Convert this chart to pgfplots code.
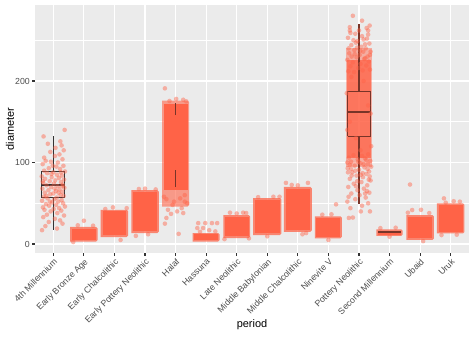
\documentclass[border=0pt]{standalone}
\usepackage{pgfplots}
\pgfplotsset{compat=1.18}
\usepackage{fontspec}
\setmainfont{Liberation Sans}
\definecolor{tomato}{RGB}{255,99,71}
\definecolor{panelbg}{RGB}{235,235,235}
\definecolor{grey20}{RGB}{51,51,51}
\definecolor{grey30}{RGB}{77,77,77}
\definecolor{boxred}{RGB}{120,52,40}
\pgfplotsset{
  pts/.style={only marks, mark=*, mark size=2.3bp, color=tomato, mark options={draw opacity=0, line width=0pt, fill=tomato, fill opacity=0.45}},
  outer/.style={fill=tomato, fill opacity=0.75, draw=none, rounded corners=1.5bp},
  inner/.style={fill=tomato, draw=none},
}
\begin{document}
\begin{tikzpicture}
\begin{axis}[
  scale only axis, width=434bp, height=247.8bp,
  xmin=-0.6, xmax=13.6, ymin=-11, ymax=293,
  axis background/.style={fill=panelbg},
  axis line style={draw=none},
  tick pos=left, tick align=outside,
  major tick length=2.75bp, minor tick length=0pt,
  tick style={grey20, line width=1.07bp},
  xtick={0,1,2,3,4,5,6,7,8,9,10,11,12,13},
  xticklabels={4th Millennium, Early Bronze Age, Early Chalcolithic, Early Pottery Neolithic, Halaf, Hassuna, Late Neolithic, Middle Babylonian, Middle Chalcolithic, Ninevite V, Pottery Neolithic, Second Millennium, Ubaid, Uruk},
  ytick={0,100,200}, minor ytick={50,150,250},
  grid=both,
  major grid style={white, line width=1.07bp},
  minor grid style={white, line width=0.53bp},
  xticklabel style={rotate=45, anchor=north east, font=\fontsize{8.8}{10}\selectfont, text=grey30, inner sep=1.5pt},
  yticklabel style={font=\fontsize{8.8}{10}\selectfont, text=grey30, inner sep=2.2bp},
  /pgf/number format/assume math mode=true,
  xlabel={period}, ylabel={diameter},
  every axis x label/.style={at={(axis description cs:0.5,0)}, yshift=-72bp, anchor=center, font=\fontsize{11}{13}\selectfont},
  every axis y label/.style={at={(axis description cs:0,0.5)}, xshift=-25bp, rotate=90, anchor=center, font=\fontsize{11}{13}\selectfont},
]
% 4th Millennium box (under points)
\addplot[grey20, line width=1.07bp] coordinates {(-0.375,57) (0.375,57) (0.375,89) (-0.375,89) (-0.375,57)};
\addplot[grey20, line width=1.07bp] coordinates {(0,89) (0,132)};
\addplot[grey20, line width=1.07bp] coordinates {(0,57) (0,17)};
\addplot[grey20, line width=2.1bp] coordinates {(-0.375,72) (0.375,72)};
% dense blocks
\addplot[outer] coordinates {(0.55,3) (1.45,3) (1.45,21) (0.55,21)};
\addplot[inner] coordinates {(0.61,5) (1.39,5) (1.39,19) (0.61,19)};
\addplot[outer] coordinates {(1.55,8.6) (2.45,8.6) (2.45,42) (1.55,42)};
\addplot[inner] coordinates {(1.61,10.5) (2.39,10.5) (2.39,40) (1.61,40)};
\addplot[outer] coordinates {(2.55,13.5) (3.45,13.5) (3.45,66) (2.55,66)};
\addplot[inner] coordinates {(2.61,15.5) (3.39,15.5) (3.39,64) (2.61,64)};
\addplot[fill=tomato, fill opacity=0.6, draw=none, rounded corners=1.5bp] coordinates {(3.56,46) (4.44,46) (4.44,176) (3.56,176)};
\addplot[inner] coordinates {(3.61,66) (4.39,66) (4.39,172) (3.61,172)};
\addplot[outer] coordinates {(4.56,3) (5.44,3) (5.44,13.5) (4.56,13.5)};
\addplot[inner] coordinates {(4.61,4.5) (5.39,4.5) (5.39,12) (4.61,12)};
\addplot[outer] coordinates {(5.56,7.4) (6.44,7.4) (6.44,35.6) (5.56,35.6)};
\addplot[inner] coordinates {(5.61,9.5) (6.39,9.5) (6.39,33.5) (5.61,33.5)};
\addplot[outer] coordinates {(6.54,11) (7.46,11) (7.46,56.4) (6.54,56.4)};
\addplot[inner] coordinates {(6.6,13) (7.4,13) (7.4,54.5) (6.6,54.5)};
\addplot[outer] coordinates {(7.54,15) (8.46,15) (8.46,70) (7.54,70)};
\addplot[inner] coordinates {(7.6,17) (8.4,17) (8.4,68) (7.6,68)};
\addplot[outer] coordinates {(8.56,7) (9.44,7) (9.44,34) (8.56,34)};
\addplot[inner] coordinates {(8.61,9) (9.39,9) (9.39,32) (8.61,32)};
\addplot[outer] coordinates {(10.57,10) (11.43,10) (11.43,18) (10.57,18)};
\addplot[inner] coordinates {(10.62,11.5) (11.38,11.5) (11.38,16.5) (10.62,16.5)};
\addplot[outer] coordinates {(11.55,5) (12.45,5) (12.45,35.6) (11.55,35.6)};
\addplot[inner] coordinates {(11.61,7) (12.39,7) (12.39,33.5) (11.61,33.5)};
\addplot[outer] coordinates {(12.55,13) (13.45,13) (13.45,50) (12.55,50)};
\addplot[inner] coordinates {(12.61,15) (13.39,15) (13.39,48) (12.61,48)};
% Pottery Neolithic core
\addplot[fill=tomato, fill opacity=0.45, draw=none] coordinates {(9.58,95) (10.42,95) (10.42,240) (9.58,240)};
\addplot[fill=tomato, fill opacity=0.75, draw=none] coordinates {(9.62,106) (10.38,106) (10.38,226) (9.62,226)};
% Pottery Neolithic box
\addplot[boxred, line width=1.07bp] coordinates {(9.625,132) (10.375,132) (10.375,187) (9.625,187) (9.625,132)};
\addplot[boxred, line width=1.07bp] coordinates {(10,187) (10,270)};
\addplot[boxred, line width=1.07bp] coordinates {(10,132) (10,49)};
\addplot[boxred, line width=2.1bp] coordinates {(9.625,162) (10.375,162)};
% Halaf whisker segments visible
\addplot[boxred, line width=1.07bp] coordinates {(4,158) (4,173)};
\addplot[boxred, line width=1.07bp] coordinates {(4,70) (4,91)};
% Second Millennium median
\addplot[boxred, line width=1.5bp] coordinates {(10.625,14.5) (11.375,14.5)};
% 4th Millennium points
\addplot[pts] coordinates {
(-0.32,132) (0.37,140) (-0.37,17) (0.23,126) (0.27,121) (-0.1,113) (0.05,108) (0.3,104) (-0.25,102) (0.15,100)
(-0.35,98) (0.33,96) (0.1,95) (-0.15,93) (0.22,92) (-0.3,90) (0.38,89) (0.0,88) (-0.2,87) (0.12,85)
(0.28,84) (-0.38,83) (-0.05,82) (0.18,81) (-0.27,80) (0.35,79) (0.06,78) (-0.12,77) (0.25,76) (-0.33,75)
(0.02,74) (0.31,73) (-0.22,72) (0.14,71) (-0.07,70) (0.36,69) (-0.36,68) (0.2,67) (-0.16,66) (0.08,65)
(0.29,64) (-0.28,63) (0.0,62) (-0.1,61) (0.24,60) (0.34,59) (-0.31,58) (0.11,57) (-0.19,56) (0.03,55)
(0.27,54) (-0.37,53) (0.16,52) (-0.04,51) (0.32,50) (-0.24,49) (0.09,48) (-0.14,47) (0.38,46) (-0.34,45)
(0.19,44) (0.01,43) (-0.29,42) (0.26,41) (-0.09,40) (0.13,38) (-0.21,36) (0.35,35) (-0.33,33) (0.05,31)
(0.22,29) (-0.15,27) (0.3,25) (-0.26,22) (0.12,19) (-0.02,96) (0.2,110) (-0.3,106) (0.07,118) (-0.18,123)
(0.34,115) (-0.08,101) (0.25,88) (-0.35,77) (0.17,63) (-0.06,86) (0.04,68) (-0.23,59) (0.29,71) (-0.11,52)
};
% Pottery Neolithic points
\addplot[pts] coordinates {
(9.67,32) (9.80,32.5) (10.06,40) (10.36,40) (9.72,44) (10.10,47) (10.30,50) (9.62,52) (9.88,55) (10.22,57)
(10.02,60) (9.75,62) (10.34,63) (9.95,66) (10.16,68) (9.65,70) (10.27,72) (9.83,74) (10.08,76) (10.38,78)
(9.70,80) (10.13,82) (9.92,84) (10.24,86) (9.78,88) (10.33,89) (10.00,91) (9.63,93) (10.18,94) (9.86,96)
(10.29,98) (10.05,99) (9.74,101) (10.37,102) (9.96,104) (10.20,105) (9.67,106) (10.10,108) (9.82,109) (10.30,110)
(10.26,65) (9.90,71) (10.12,87) (9.70,97) (10.35,83)
(9.66,58) (10.20,62) (9.94,77) (10.32,79) (9.76,84) (10.06,85) (9.64,88) (10.28,92) (9.88,90) (10.15,98)
(9.74,92) (10.40,95) (9.98,101) (9.62,100) (10.24,103)
(9.80,280) (10.10,274) (9.70,266) (10.25,265) (10.00,262) (9.88,258) (10.30,257) (9.64,253) (10.15,251) (9.95,249)
(10.34,246) (9.75,244) (10.08,242) (10.22,240) (9.85,238) (10.38,236) (9.68,234) (10.02,232) (10.28,230) (9.92,229)
(10.17,227) (9.62,226) (10.32,224) (9.80,223) (10.05,221) (10.24,219) (9.72,218) (9.98,216) (10.36,214) (10.12,213)
(9.65,212) (9.84,211) (10.20,245) (9.72,259) (10.35,268) (9.90,247) (10.10,255)
(9.82,250) (10.26,252) (9.66,240) (10.14,236) (9.94,241) (10.36,232) (9.76,230) (10.04,237) (9.86,233) (10.20,228)
(9.70,262) (10.30,262)
(9.70,150) (10.30,170) (9.90,130) (10.15,200) (9.60,185) (10.40,120) (10.38,160) (9.62,140) (10.05,115) (9.75,205)
};
% scattered points of the dense groups
\addplot[pts] coordinates {
(1.0,28.6) (0.8,23) (1.3,22.5) (0.65,2.5)
(1.95,45) (2.4,44) (2.2,5) (1.7,43)
(2.7,10) (3.1,12) (3.35,67) (2.8,67.5) (3.0,68)
(3.65,191) (4.25,177) (4.02,178) (3.8,175.5) (4.35,175) (3.7,32) (3.65,25) (4.1,12.5) (3.7,55) (4.3,52)
(3.9,48) (4.2,44) (3.62,58) (4.38,50) (4.05,40) (3.75,42) (4.15,56) (4.3,60) (3.85,37) (4.25,38) (3.95,52)
(4.74,25.7) (4.97,25.7) (5.19,25.7) (5.36,25.7) (4.71,19.6) (4.9,19.6) (5.1,17) (5.3,15.5) (4.8,15)
(5.78,38.5) (6.21,38.5) (6.31,38) (6.0,37.5) (5.6,6) (6.4,7)
(6.7,57.5) (7.2,58) (7.4,58) (7.0,9.5)
(7.61,75) (8.33,75) (8.27,13.5) (8.0,72) (7.8,72.5) (8.15,12)
(9.25,48.7) (8.8,36) (9.1,36.5) (9.0,5)
(10.7,19.5) (11.2,20) (11.0,9)
(11.67,73) (11.74,41.7) (12.03,42) (12.3,38) (11.6,38.5) (12.1,3.5)
(12.78,56) (12.84,50.7) (13.3,52) (13.1,52.5) (12.7,11) (13.2,11.5)
};
\end{axis}
\pgfresetboundingbox
\path[use as bounding box] (-35bp,-85bp) rectangle (439bp,253bp);
\end{tikzpicture}
\end{document}
